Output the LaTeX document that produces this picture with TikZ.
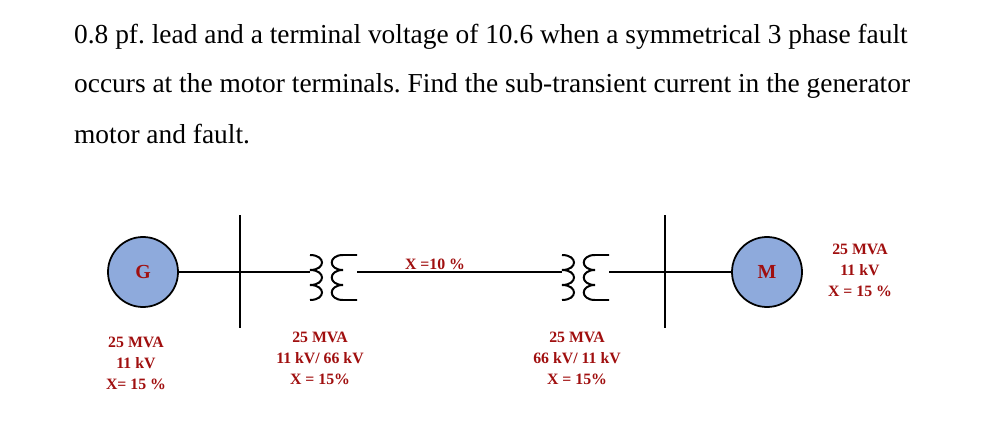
\documentclass[tikz,border=0pt]{standalone}
\usepackage{fontspec}
\setmainfont{Liberation Serif}
\definecolor{machfill}{RGB}{142,170,220}
\definecolor{lblred}{RGB}{160,15,15}
\begin{document}
\frenchspacing
\begin{tikzpicture}[x=0.03cm,y=-0.03cm,
  mach/.style={circle,draw,line width=1.5pt,fill=machfill,minimum size=2.1cm,inner sep=0,text=lblred,font=\bfseries\fontsize{17}{20}\selectfont},
  lbl/.style={text=lblred,font=\bfseries\fontsize{13.5}{18}\selectfont,align=center},
  top/.style={anchor=west,font=\fontsize{23.4}{28}\selectfont},
  wire/.style={line width=1.7pt},
  bus/.style={line width=2.5pt}]
\useasboundingbox (0,0) rectangle (992,425);
\node[top] (t1) at (70,37) {0.8 pf. lead and a terminal voltage of 10.6 when a symmetrical 3 phase fault};
\node[top] (t2) at (70,86) {occurs at the motor terminals. Find the sub-transient current in the generator};
\node[top] (t3) at (70,134) {motor and fault.};
\node[mach] (G) at (143,272) {G};
\node[mach] (M) at (767,272) {M};
\coordinate (b1t) at (240,215); \coordinate (b1b) at (240,328);
\coordinate (b1) at (240,272);
\coordinate (b2t) at (665,215); \coordinate (b2b) at (665,328);
\coordinate (b2) at (665,272);
\draw[bus] (b1t) -- (b1b);
\draw[bus] (b2t) -- (b2b);
\foreach \x/\n in {310/T1,562/T2}{
  \coordinate (\n a) at (\x,272);
  \coordinate (\n b) at (\x+47,272);
  \draw[wire] (\x,255) .. controls (\x+16,255) and (\x+16,270) .. (\x,270)
    .. controls (\x+16,270) and (\x+16,285) .. (\x,285)
    .. controls (\x+16,285) and (\x+16,300) .. (\x,300);
  \draw[wire] (\x+47,255) -- (\x+33,255) .. controls (\x+18,255) and (\x+18,270) .. (\x+33,270)
    .. controls (\x+18,270) and (\x+18,285) .. (\x+33,285)
    .. controls (\x+18,285) and (\x+18,300) .. (\x+33,300) -- (\x+47,300);
}
\draw[wire] (G) -- (b1) -- (T1a);
\draw[wire] (T1b) -- (T2a);
\draw[wire] (T2b) -- (b2) -- (M);
\node[lbl] (lx) at (435,264) {X =10 \%};
\node[lbl] (lg) at (136,363) {25 MVA\\11 kV\\X= 15 \%};
\node[lbl] (lt1) at (320,358) {25 MVA\\11 kV/ 66 kV\\X = 15\%};
\node[lbl] (lt2) at (577,358) {25 MVA\\66 kV/ 11 kV\\X = 15\%};
\node[lbl] (lm) at (860,270) {25 MVA\\11 kV\\X = 15 \%};
\end{tikzpicture}
\end{document}
